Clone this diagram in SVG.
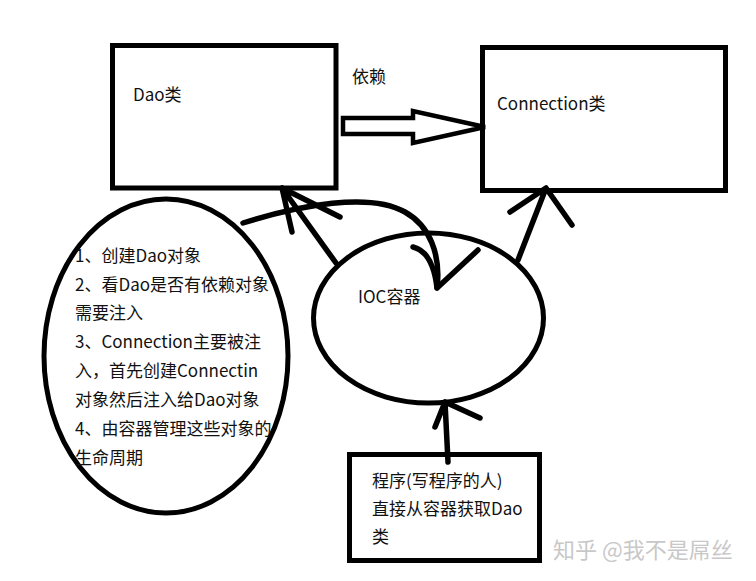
<svg xmlns="http://www.w3.org/2000/svg" width="756" height="581" viewBox="0 0 756 581">
<style>
.box{fill:#fff;stroke:#000;stroke-width:5}
.ell{fill:#fff;stroke:#000;stroke-width:5}
.ln{fill:none;stroke:#000;stroke-width:5.5;stroke-linecap:round;stroke-linejoin:round}
.t{font-family:"Noto Sans CJK SC","Noto Sans",sans-serif;font-size:17px;fill:#111}
.wm{font-family:"Noto Sans CJK SC","Noto Sans",sans-serif;font-size:22px;fill:#c8c8c8}
</style>
<rect width="756" height="581" fill="#fff"/>
<g id="dao">
<rect class="box" x="112.5" y="45.5" width="223.5" height="142.5"/>
<text class="t" x="133" y="101">Dao类</text>
</g>
<g id="connection">
<rect class="box" x="482.5" y="47.5" width="243" height="143"/>
<text class="t" x="497" y="110">Connection类</text>
</g>
<g id="notes">
<ellipse class="ell" cx="166" cy="356" rx="122" ry="157"/>
<text class="t" x="75" y="262">1、创建Dao对象</text>
<text class="t" x="75" y="291">2、看Dao是否有依赖对象</text>
<text class="t" x="75" y="319">需要注入</text>
<text class="t" x="75" y="348">3、Connection主要被注</text>
<text class="t" x="75" y="377">入，首先创建Connectin</text>
<text class="t" x="75" y="406">对象然后注入给Dao对象</text>
<text class="t" x="75" y="435">4、由容器管理这些对象的</text>
<text class="t" x="75" y="464">生命周期</text>
</g>
<g id="ioc">
<ellipse class="ell" cx="428.5" cy="318" rx="115" ry="85"/>
<text class="t" x="358" y="303">IOC容器</text>
</g>
<g id="program">
<rect class="box" x="349.5" y="454.5" width="190" height="106"/>
<text class="t" x="372" y="487">程序(写程序的人)</text>
<text class="t" x="372" y="515">直接从容器获取Dao</text>
<text class="t" x="372" y="543">类</text>
</g>
<g id="connectors">
<polygon points="343,118 413,118 413,111 485,127 413,143 413,134 343,134" fill="#fff" stroke="#000" stroke-width="4.5" stroke-linejoin="miter"/>
<text class="t" x="352" y="83">依赖</text>
<path class="ln" d="M336,263 L282,188 M292,232 L282,188 L340,217"/>
<path class="ln" d="M243,223 C300,205 370,192 405,212 C430,226 441,255 437,288"/>
<path class="ln" d="M413,247 Q433,252 437,288 L478,250"/>
<path class="ln" d="M518,260 L546,188 M510,212 L546,188 L572,225"/>
<path class="ln" d="M448,462 L445,402 M435,427 L445,402 L480,418"/>
</g>
<text class="wm" x="553" y="558">知乎 @我不是屌丝</text>
</svg>
